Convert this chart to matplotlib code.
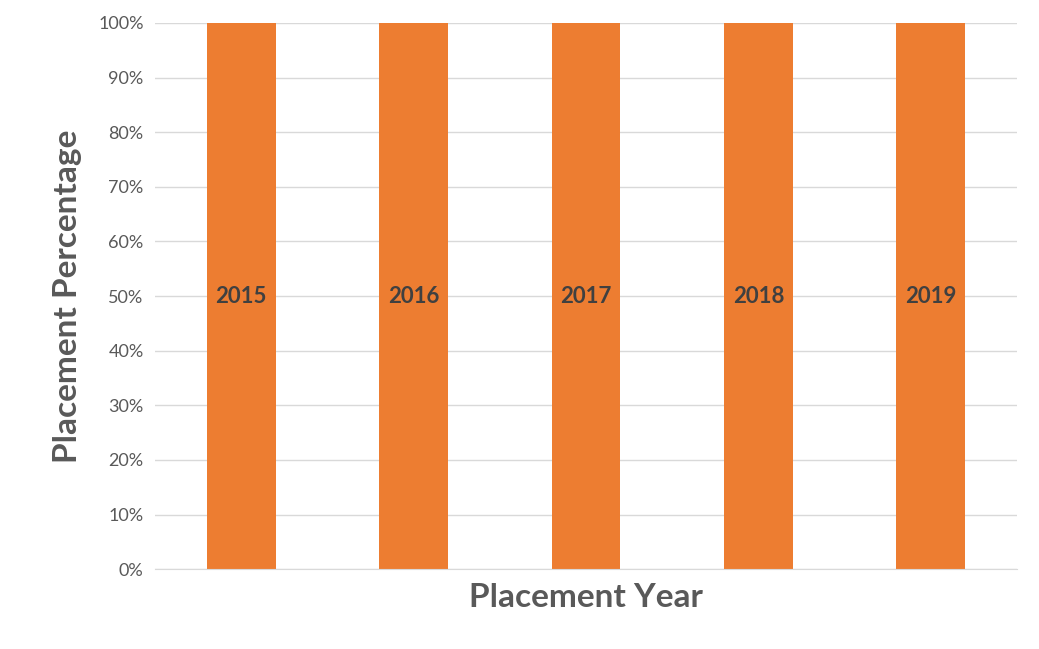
import matplotlib.pyplot as plt
from matplotlib.ticker import PercentFormatter

years = ["2015", "2016", "2017", "2018", "2019"]
placement = [100, 100, 100, 100, 100]

plt.rcParams['font.family'] = ['Lato', 'DejaVu Sans']

fig = plt.figure(figsize=(10.39, 6.49), dpi=100)
ax = fig.add_axes([0.149, 0.123, 0.830, 0.8416])

x = range(len(years))
bars = ax.bar(x, placement, width=0.4, color='#ED7D31', zorder=2)
for xi, yr in zip(x, years):
    ax.text(xi, 50, yr, ha='center', va='center', fontsize=16,
            fontweight='bold', color='#404040', zorder=3)

ax.set_xlim(-0.5, len(years) - 0.5)
ax.set_ylim(0, 100)
ax.set_yticks(range(0, 101, 10))
ax.yaxis.set_major_formatter(PercentFormatter(decimals=0))
ax.set_xticks([])
ax.grid(axis='y', color='#D9D9D9', linewidth=1, zorder=0)
for s in ['top', 'right', 'left']:
    ax.spines[s].set_visible(False)
ax.spines['bottom'].set_color('#D9D9D9')
ax.tick_params(axis='y', length=0, labelsize=13, labelcolor='#595959', pad=8)

ax.set_xlabel("Placement Year", fontsize=24, fontweight='bold', color='#595959', labelpad=10)
ax.set_ylabel("Placement Percentage", fontsize=24, fontweight='bold', color='#595959', labelpad=12)

plt.savefig("out.png", dpi=100)
